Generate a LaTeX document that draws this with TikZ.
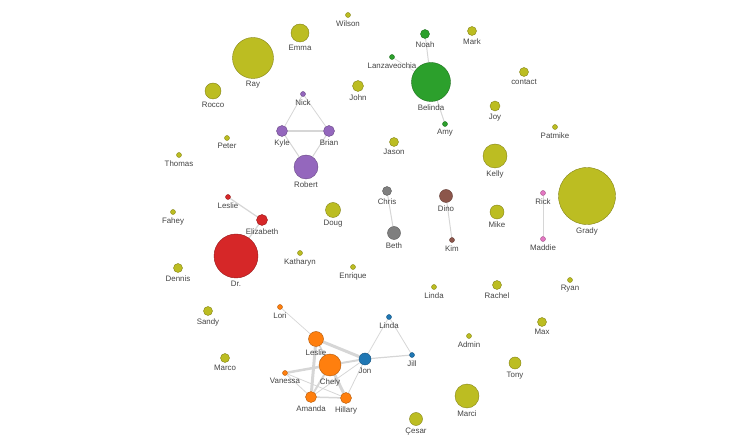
\documentclass[tikz,border=0pt]{standalone}
\usepackage{fontspec}
\setmainfont{Liberation Sans}
\usetikzlibrary{backgrounds}
\definecolor{olv}{HTML}{BCBD22}
\definecolor{grn}{HTML}{2CA02C}
\definecolor{prp}{HTML}{9467BD}
\definecolor{rd}{HTML}{D62728}
\definecolor{gry}{HTML}{7F7F7F}
\definecolor{brn}{HTML}{8C564B}
\definecolor{pnk}{HTML}{E377C2}
\definecolor{org}{HTML}{FF7F0E}
\definecolor{blu}{HTML}{1F77B4}
\definecolor{lbltxt}{HTML}{444444}
\definecolor{edge}{HTML}{D6D6D6}

\begin{document}
\begin{tikzpicture}[
  x=1pt, y=-1pt,
  every label/.style={text=lbltxt, font=\fontsize{7.9}{8}\selectfont, inner sep=1pt},
  label distance=1.5pt,
  pers/.style={circle, draw=#1!70!black, fill=#1, line width=0.4pt, inner sep=0pt},
  yel/.style={pers=olv}, grnp/.style={pers=grn}, prpp/.style={pers=prp},
  rdp/.style={pers=rd}, gryp/.style={pers=gry}, brnp/.style={pers=brn},
  pnkp/.style={pers=pnk}, orgp/.style={pers=org}, blup/.style={pers=blu},
  lnk/.style={draw=edge, line width=#1},
  lnk/.default=1pt,
]
\useasboundingbox (0,0) rectangle (750,435);
% --- unconnected people (olive) ---
\node[yel, minimum size=5]  (wilson)   at (348,15)  [label=below:Wilson] {};
\node[yel, minimum size=18] (emma)     at (300,33)  [label=below:Emma] {};
\node[yel, minimum size=41] (ray)      at (253,58)  [label=below:Ray] {};
\node[yel, minimum size=16] (rocco)    at (213,91)  [label=below:Rocco] {};
\node[yel, minimum size=11] (john)     at (358,86)  [label=below:John] {};
\node[yel, minimum size=5]  (peter)    at (227,138) [label=below:Peter] {};
\node[yel, minimum size=9]  (mark)     at (472,31)  [label=below:Mark] {};
\node[yel, minimum size=9]  (contact)  at (524,72)  [label=below:contact] {};
\node[yel, minimum size=10] (joy)      at (495,106) [label=below:Joy] {};
\node[yel, minimum size=5]  (patmike)  at (555,127) [label=below:Patmike] {};
\node[yel, minimum size=9]  (jason)    at (394,142) [label=below:Jason] {};
\node[yel, minimum size=5]  (thomas)   at (179,155) [label=below:Thomas] {};
\node[yel, minimum size=5]  (fahey)    at (173,212) [label=below:Fahey] {};
\node[yel, minimum size=15] (doug)     at (333,210) [label=below:Doug] {};
\node[yel, minimum size=24] (kelly)    at (495,156) [label=below:Kelly] {};
\node[yel, minimum size=57] (grady)    at (587,196) [label=below:Grady] {};
\node[yel, minimum size=14] (mike)     at (497,212) [label=below:Mike] {};
\node[yel, minimum size=9]  (dennis)   at (178,268) [label=below:Dennis] {};
\node[yel, minimum size=5]  (katharyn) at (300,253) [label=below:Katharyn] {};
\node[yel, minimum size=5]  (enrique)  at (353,267) [label=below:Enrique] {};
\node[yel, minimum size=5]  (lindaY)   at (434,287) [label=below:Linda] {};
\node[yel, minimum size=9]  (rachel)   at (497,285) [label=below:Rachel] {};
\node[yel, minimum size=5]  (ryan)     at (570,280) [label=below:Ryan] {};
\node[yel, minimum size=9]  (sandy)    at (208,311) [label=below:Sandy] {};
\node[yel, minimum size=9]  (marco)    at (225,358) [label=below:Marco] {};
\node[yel, minimum size=5]  (admin)    at (469,336) [label=below:Admin] {};
\node[yel, minimum size=9]  (max)      at (542,322) [label=below:Max] {};
\node[yel, minimum size=12] (tony)     at (515,363) [label=below:Tony] {};
\node[yel, minimum size=24] (marci)    at (467,396) [label=below:Marci] {};
\node[yel, minimum size=13] (cesar)    at (416,419) [label=below:Çesar] {};
% --- groups ---
\node[grnp, minimum size=9]  (noah)    at (425,34)  [label=below:Noah] {};
\node[grnp, minimum size=5]  (lanz)    at (392,57)  [label=below:Lanzaveochia] {};
\node[grnp, minimum size=39] (belinda) at (431,82)  [label=below:Belinda] {};
\node[grnp, minimum size=5]  (amy)     at (445,124) [label=below:Amy] {};
\node[prpp, minimum size=5]  (nick)    at (303,94)  [label=below:Nick] {};
\node[prpp, minimum size=11] (kyle)    at (282,131) [label=below:Kyle] {};
\node[prpp, minimum size=11] (brian)   at (329,131) [label=below:Brian] {};
\node[prpp, minimum size=24] (robert)  at (306,167) [label=below:Robert] {};
\node[rdp, minimum size=5]   (lesR)    at (228,197) [label=below:Leslie] {};
\node[rdp, minimum size=11]  (eliz)    at (262,220) [label=below:Elizabeth] {};
\node[rdp, minimum size=44]  (dr)      at (236,256) [label=below:Dr.] {};
\node[gryp, minimum size=9]  (chris)   at (387,191) [label=below:Chris] {};
\node[gryp, minimum size=13] (beth)    at (394,233) [label=below:Beth] {};
\node[brnp, minimum size=13] (dino)    at (446,196) [label=below:Dino] {};
\node[brnp, minimum size=5]  (kim)     at (452,240) [label=below:Kim] {};
\node[pnkp, minimum size=5]  (rick)    at (543,193) [label=below:Rick] {};
\node[pnkp, minimum size=5]  (maddie)  at (543,239) [label=below:Maddie] {};
\node[orgp, minimum size=5]  (lori)    at (280,307) [label=below:Lori] {};
\node[orgp, minimum size=15] (lesO)    at (316,339) [label=below:Leslie] {};
\node[orgp, minimum size=22] (chely)   at (330,365) [label=below:Chely] {};
\node[orgp, minimum size=5]  (vanessa) at (285,373) [label=below:Vanessa] {};
\node[orgp, minimum size=11] (amanda)  at (311,397) [label=below:Amanda] {};
\node[orgp, minimum size=11] (hillary) at (346,398) [label=below:Hillary] {};
\node[blup, minimum size=5]  (lindaB)  at (389,317) [label=below:Linda] {};
\node[blup, minimum size=12] (jon)     at (365,359) [label=below:Jon] {};
\node[blup, minimum size=5]  (jill)    at (412,355) [label=below:Jill] {};
% --- links ---
\begin{scope}[on background layer]
\draw[lnk=0.8] (nick) -- (kyle);
\draw[lnk=0.8] (nick) -- (brian);
\draw[lnk=1.2] (kyle) -- (brian);
\draw[lnk] (kyle) -- (robert);
\draw[lnk] (brian) -- (robert);
\draw[lnk] (noah) -- (belinda);
\draw[lnk=0.6] (lanz) -- (belinda);
\draw[lnk] (belinda) -- (amy);
\draw[lnk=1.2] (lesR) -- (eliz);
\draw[lnk=1.2] (eliz) -- (dr);
\draw[lnk] (chris) -- (beth);
\draw[lnk] (dino) -- (kim);
\draw[lnk] (rick) -- (maddie);
\draw[lnk=0.7] (lori) -- (lesO);
\draw[lnk=3] (lesO) -- (jon);
\draw[lnk=1.5] (lesO) -- (chely);
\draw[lnk=3] (lesO) -- (amanda);
\draw[lnk] (lesO) -- (hillary);
\draw[lnk=2.5] (vanessa) -- (chely);
\draw[lnk=0.8] (vanessa) -- (amanda);
\draw[lnk=0.8] (vanessa) -- (hillary);
\draw[lnk=2] (chely) -- (amanda);
\draw[lnk=3] (chely) -- (hillary);
\draw[lnk=2] (chely) -- (jon);
\draw[lnk=1.5] (amanda) -- (hillary);
\draw[lnk=0.8] (amanda) -- (jon);
\draw[lnk=0.8] (hillary) -- (jon);
\draw[lnk=0.8] (jon) -- (lindaB);
\draw[lnk=1.2] (jon) -- (jill);
\draw[lnk=0.8] (lindaB) -- (jill);
\end{scope}
\end{tikzpicture}
\end{document}
